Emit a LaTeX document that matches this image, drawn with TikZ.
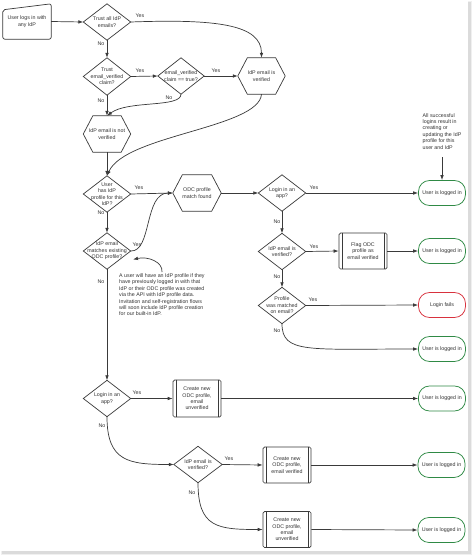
\documentclass[tikz,border=0pt]{standalone}
\usepackage{fontspec}
\setmainfont{Liberation Sans}
\usetikzlibrary{arrows.meta,calc}
\definecolor{ln}{HTML}{3A3A3A}
\definecolor{tx}{HTML}{333333}
\definecolor{grn}{HTML}{2F8A45}
\definecolor{rd}{HTML}{D8323E}
\begin{document}
\begin{tikzpicture}[x=1pt,y=-1pt,
  every node/.style={font=\fontsize{5.3}{6.4}\selectfont, text=tx, inner sep=0pt, align=center},
  box/.style={minimum width=47pt, minimum height=36pt},
  proc/.style={box, minimum width=48pt, draw=ln, line width=0.7pt, rounded corners=1.5pt},
  term/.style={draw=grn, line width=0.75pt, rounded corners=11pt, minimum width=47pt, minimum height=25pt},
  fail/.style={term, draw=rd},
  line/.style={draw=ln, line width=0.7pt},
  arr/.style={line, -{Latex[length=5pt,width=3.6pt]}},
  lab/.style={font=\fontsize{5.3}{6.4}\selectfont},
  note/.style={align=left, anchor=north west}
]
\useasboundingbox (0,0) rectangle (474,557);
% card with shadow
\fill[gray!12] (1,1) rectangle (472,555);
\fill[gray!28] (2,2) rectangle (470.5,553.5);
\fill[white] (0,0) rectangle (467.5,550.5);

% nodes
\node[box, minimum width=48pt, minimum height=35pt] (start) at (27,21.5) {User logs in with\\any IdP};
\node[box] (d1) at (107,22) {Trust all IdP\\emails?};
\node[box, minimum height=37pt] (d2) at (107,76.5) {Trust\\email\_verified\\claim?};
\node[box, minimum width=46pt] (d3) at (181,76) {email\_verified\\claim == true?};
\node[box] (v) at (261.5,76) {IdP email is\\verified};
\node[box] (nv) at (107,134) {IdP email is not\\verified};
\node[box] (d4) at (107,194) {User\\has IdP\\profile for this\\IdP?};
\node[box, minimum width=48pt] (op) at (197,193) {ODC profile\\match found};
\node[box] (d5) at (107,251) {IdP email\\matches existing\\ODC profile?};
\node[box] (d7) at (282,193) {Login in an\\app?};
\node[term] (t1) at (442,193) {User is logged in};
\node[box] (d8) at (282,251.5) {IdP email is\\verified?};
\node[proc] (flag) at (363,251) {Flag ODC\\profile as\\email verified};
\node[term] (t2) at (442,251) {User is logged in};
\node[box] (d9) at (282,305.5) {Profile\\was matched\\on email?};
\node[fail] (t3) at (442,305) {Login fails};
\node[term] (t4) at (442,349) {User is logged in};
\node[box] (d6) at (107,398.5) {Login in an\\app?};
\node[proc, minimum height=37pt] (cb1) at (197,398.5) {Create new\\ODC profile,\\email\\unverified};
\node[term] (t5) at (442,398.5) {User is logged in};
\node[box, minimum width=48pt] (d10) at (198,464.5) {IdP email is\\verified?};
\node[proc] (cb2) at (287,465) {Create new\\ODC profile,\\email verified};
\node[term] (t6) at (441.5,465) {User is logged in};
\node[proc] (cb3) at (287,529.5) {Create new\\ODC profile,\\email\\unverified};
\node[term] (t7) at (441.5,530) {User is logged in};

\node[note] (n1) at (119,273.5) {\fontsize{5.3}{6.15}\selectfont A user will have an IdP profile if they\\have previously logged in with that\\IdP or their ODC profile was created\\via the API with IdP profile data.\\Invitation and self-registration flows\\will soon include IdP profile creation\\for our built-in IdP.};
\node[note] (n2) at (422.5,113) {All successful\\logins result in\\creating or\\updating the IdP\\profile for this\\user and IdP};

% outlines
\draw[line, rounded corners=2pt] (start.south west) -- ($(start.north west)+(0,6)$) -- (start.north east) -- (start.south east) -- cycle;
\foreach \n in {d1,d2,d3,d4,d5,d6,d7,d8,d9,d10}
  \draw[line] (\n.west) -- (\n.north) -- (\n.east) -- (\n.south) -- cycle;
\foreach \n in {v,nv,op}
  \draw[line] (\n.west) -- ($(\n.north west)+(9.5,0)$) -- ($(\n.north east)+(-9.5,0)$) -- (\n.east) -- ($(\n.south east)+(-9.5,0)$) -- ($(\n.south west)+(9.5,0)$) -- cycle;
\foreach \n in {flag,cb1,cb2,cb3} {
  \draw[line] ($(\n.north west)+(3.5,0)$) -- ($(\n.south west)+(3.5,0)$);
  \draw[line] ($(\n.north east)+(-3.5,0)$) -- ($(\n.south east)+(-3.5,0)$);
}

% connectors
\coordinate (n1s) at (162,272);
\coordinate (d5p) at (133,259.5);
\coordinate (n2s) at (442,157);
\draw[arr] (start.east) -- (d1.west);
\draw[arr] (d1.east) .. controls (215,19) and (261.5,24) .. (v.north);
\draw[arr] (d1.south) -- (d2.north);
\draw[arr] (d2.east) -- (d3.west);
\draw[arr] (d3.east) -- (v.west);
\draw[arr] (d2.south) -- (nv.north);
\draw[arr] (d3.south) .. controls (181,108) and (128,100) .. (nv.north);
\draw[arr] (v.south) .. controls (259,128) and (125,135) .. (d4.north);
\draw[arr] (nv.south) -- (d4.north);
\draw[arr] (d4.east) -- (op.west);
\draw[arr] (d4.south) -- (d5.north);
\draw[arr] (d5.east) .. controls (152,252) and (144,193) .. (op.west);
\draw[arr] (n1s) .. controls (163,262) and (148,256) .. (d5p);
\draw[arr] (d5.south) -- (d6.north);
\draw[arr] (op.east) -- (d7.west);
\draw[arr] (d7.east) -- (t1.west);
\draw[arr] (n2s) -- (t1.north);
\draw[arr] (d7.south) -- (d8.north);
\draw[arr] (d8.east) -- (flag.west);
\draw[arr] (flag.east) -- (t2.west);
\draw[arr] (d8.south) -- (d9.north);
\draw[arr] (d9.east) -- (t3.west);
\draw[arr] (d9.south) .. controls +(0,30) and +(-110,0) .. (t4.west);
\draw[arr] (d6.east) -- (cb1.west);
\draw[arr] (cb1.east) -- (t5.west);
\draw[arr] (d6.south) .. controls +(0,45) and +(-45,0) .. (d10.west);
\draw[arr] (d10.east) -- (cb2.west);
\draw[arr] (cb2.east) -- (t6.west);
\draw[arr] (d10.south) .. controls +(0,45) and +(-45,0) .. (cb3.west);
\draw[arr] (cb3.east) -- (t7.west);

% labels
\node[lab] (l1) at (140,16) {Yes};
\node[lab] (l2) at (101,44) {No};
\node[lab] (l3) at (140,71) {Yes};
\node[lab] (l4) at (216,71) {Yes};
\node[lab] (l5) at (169,98) {No};
\node[lab] (l6) at (101,101) {No};
\node[lab] (l7) at (139,188) {Yes};
\node[lab] (l8) at (101,213) {No};
\node[lab] (l9) at (137,245) {Yes};
\node[lab] (l10) at (101,282) {No};
\node[lab] (l11) at (314,188) {Yes};
\node[lab] (l12) at (277,222) {No};
\node[lab] (l13) at (314,247) {Yes};
\node[lab] (l14) at (277,277) {No};
\node[lab] (l15) at (313,300) {Yes};
\node[lab] (l16) at (277,331) {No};
\node[lab] (l17) at (137,393) {Yes};
\node[lab] (l18) at (102,426) {No};
\node[lab] (l19) at (229,459) {Yes};
\node[lab] (l20) at (192,493) {No};
\end{tikzpicture}
\end{document}
